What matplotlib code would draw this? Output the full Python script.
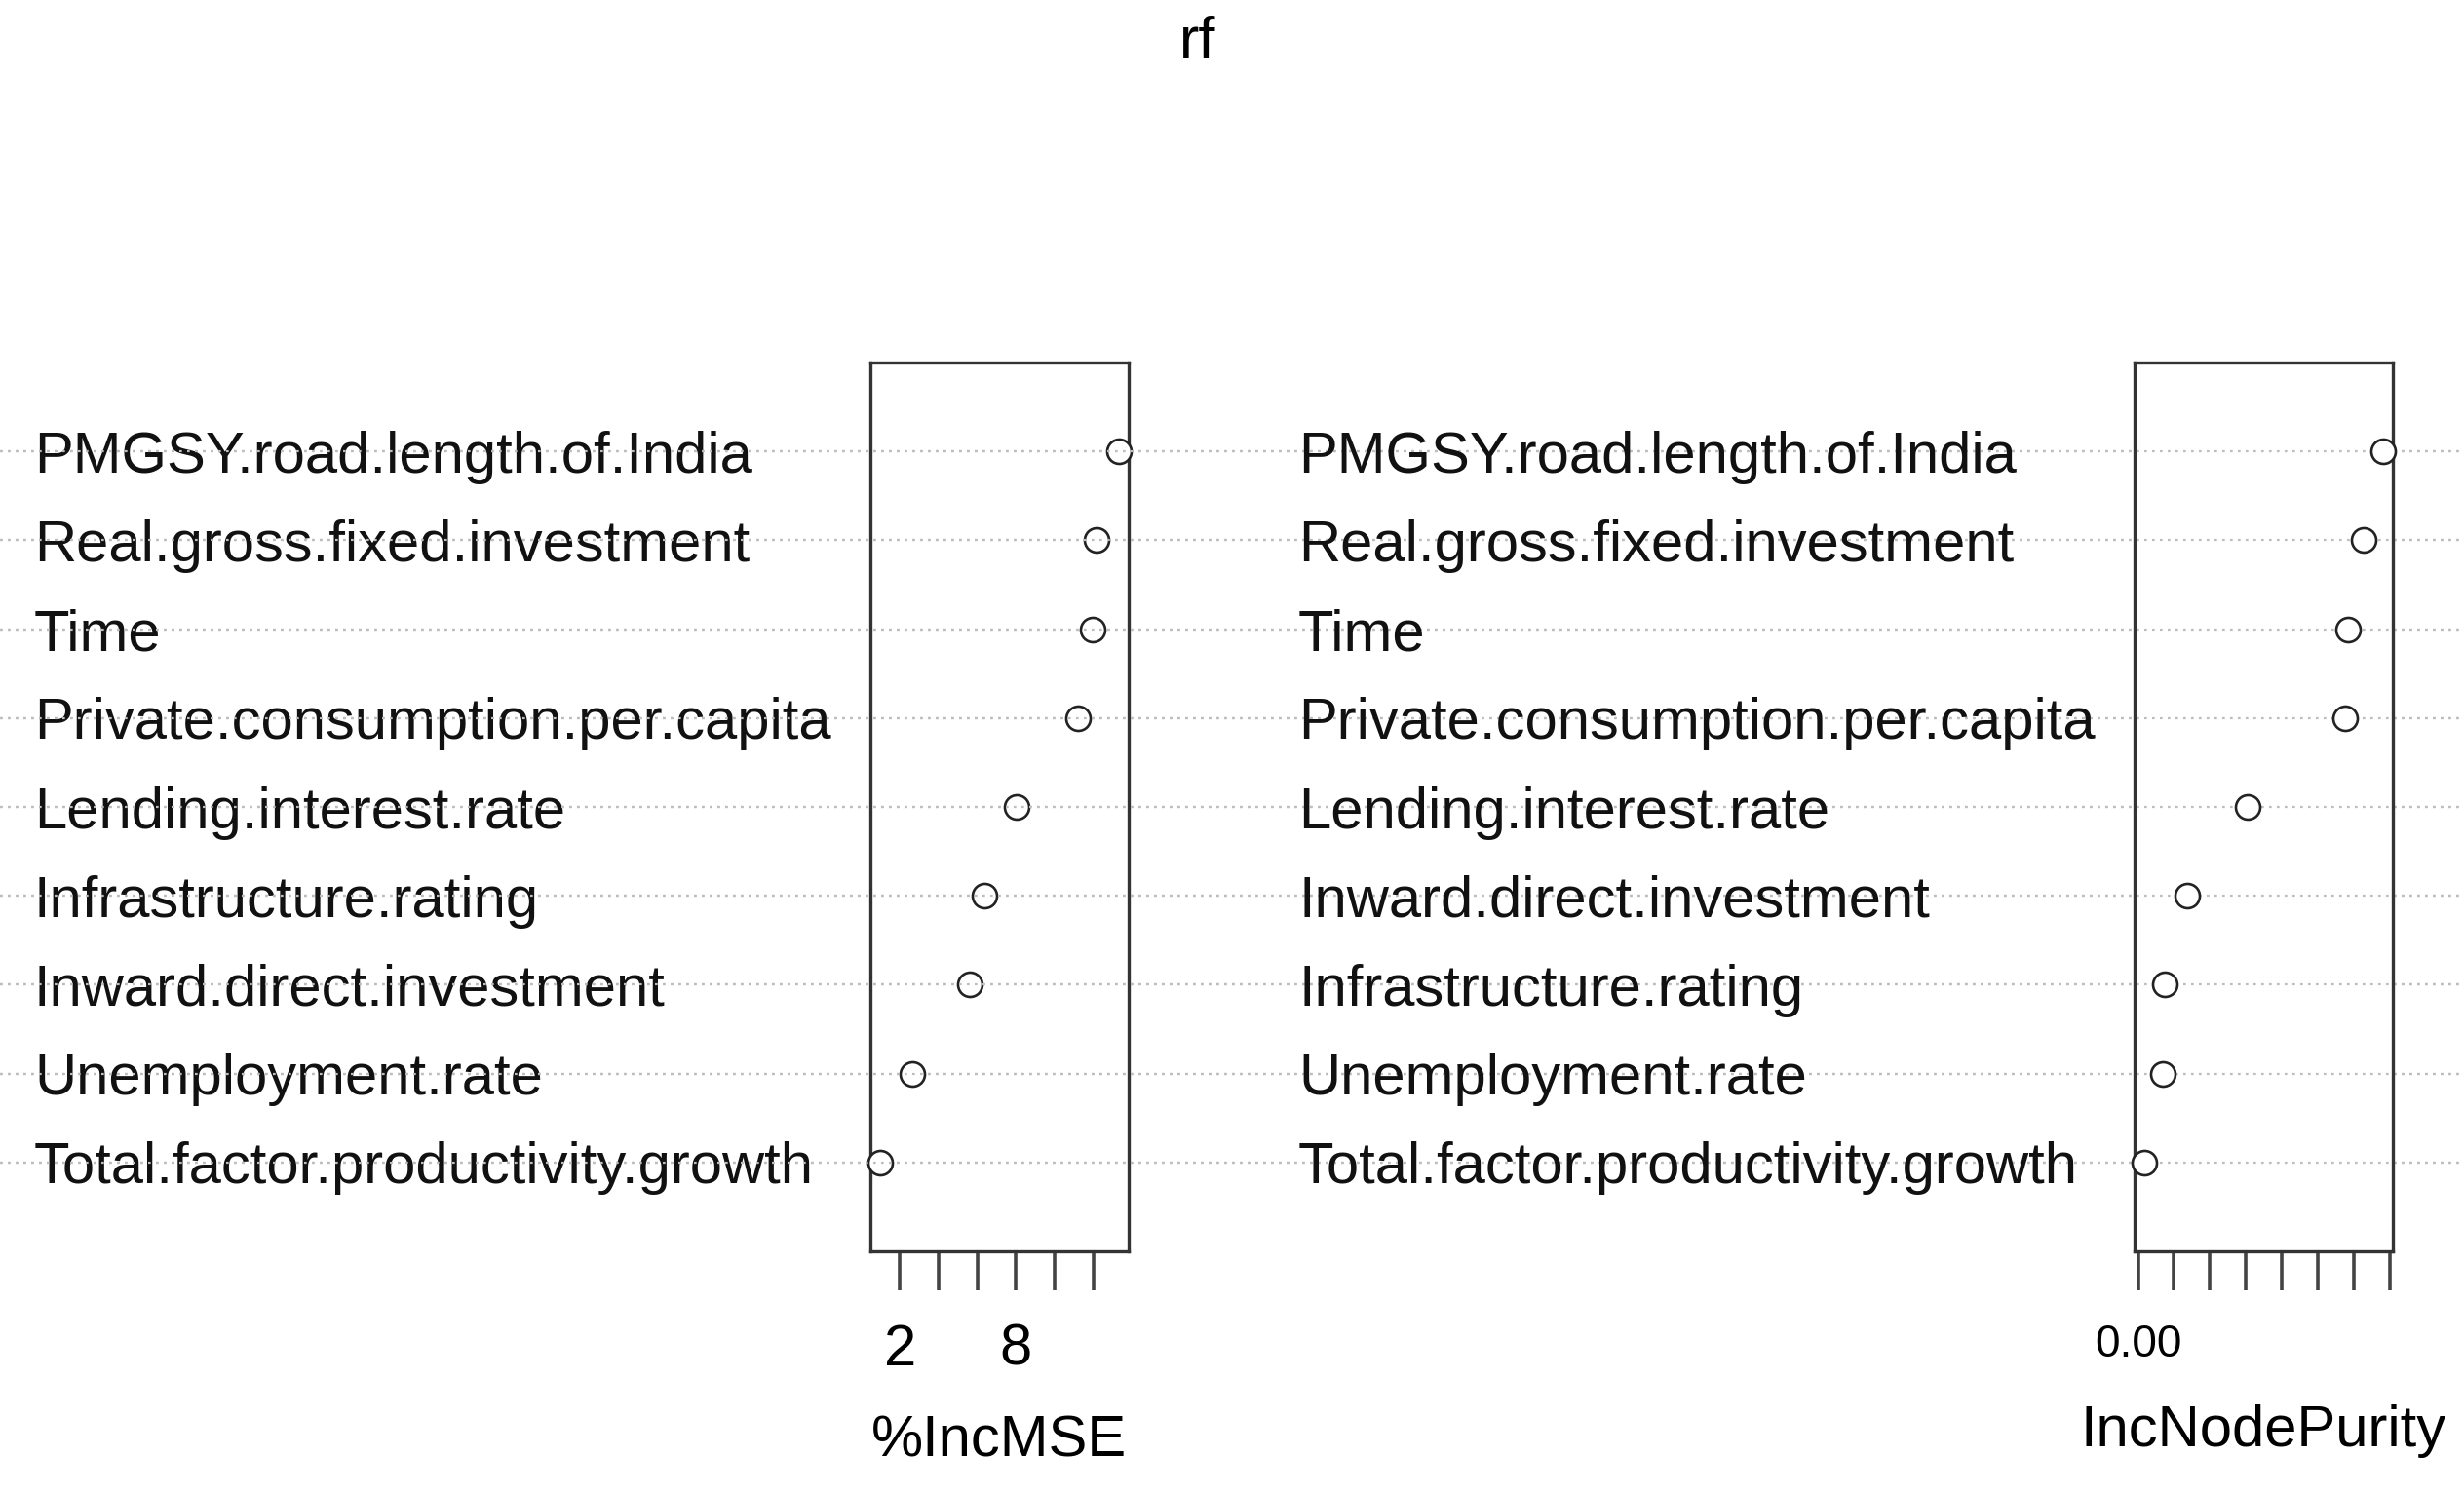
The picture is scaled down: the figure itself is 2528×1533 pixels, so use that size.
import numpy as np
import matplotlib
matplotlib.use("Agg")
import matplotlib.pyplot as plt
import matplotlib.transforms as mtransforms

plt.rcParams['font.family'] = ['Liberation Sans', 'DejaVu Sans']

# variable importance, rows listed from top to bottom
mse_names = ["PMGSY.road.length.of.India", "Real.gross.fixed.investment", "Time",
             "Private.consumption.per.capita", "Lending.interest.rate",
             "Infrastructure.rating", "Inward.direct.investment",
             "Unemployment.rate", "Total.factor.productivity.growth"]
mse_vals = [13.32, 12.14, 11.97, 11.21, 8.05, 6.35, 5.59, 2.65, 0.97]
mse_ticks = [2, 4, 6, 8, 10, 12]
mse_ticklabels = ["2", "", "", "8", "", ""]

pur_names = ["PMGSY.road.length.of.India", "Real.gross.fixed.investment", "Time",
             "Private.consumption.per.capita", "Lending.interest.rate",
             "Inward.direct.investment", "Infrastructure.rating",
             "Unemployment.rate", "Total.factor.productivity.growth"]
pur_vals = [0.1365, 0.1253, 0.1167, 0.1150, 0.0609, 0.0271, 0.0151, 0.0136, 0.0034]
pur_ticks = [0.00, 0.02, 0.04, 0.06, 0.08, 0.10, 0.12, 0.14]
pur_ticklabels = ["0.00", "", "", "", "", "", "", ""]

W, H = 2528, 1533
fig = plt.figure(figsize=(W / 100, H / 100), dpi=100)

FS = 43


def panel(left_px, label_px, names, vals, ticks, ticklabels, tick_fs, xlabel):
    ax = fig.add_axes([left_px / W, 1 - 1284 / H, 265 / W, 912 / H])
    n = len(vals)
    y = np.arange(n, 0, -1)
    lo, hi = min(vals), max(vals)
    pad = 0.04 * (hi - lo)
    ax.set_xlim(lo - pad, hi + pad)
    ax.set_ylim(0, n + 1)

    # dotted guide lines across the whole figure width
    trans = mtransforms.blended_transform_factory(fig.transFigure, ax.transData)
    for yy in y:
        ax.plot([0, 1], [yy, yy], transform=trans, color="#bdbdbd",
                linestyle=(0, (1.2, 2.4)), lw=1.6, clip_on=False, zorder=0)

    ax.plot(vals, y, 'o', mfc='white', mec='#222222', ms=18, mew=1.9,
            clip_on=False, zorder=3)

    off = mtransforms.ScaledTranslation(0, -0.36 * FS / 72, fig.dpi_scale_trans)
    for name, yy in zip(names, y):
        ax.text(label_px / W, yy, name, transform=trans + off, fontsize=FS,
                ha='left', va='baseline', color='#111111')

    ax.set_yticks([])
    ax.set_xticks(ticks)
    ax.set_xticklabels(ticklabels, fontsize=tick_fs)
    ax.tick_params(axis='x', direction='out', length=29, width=2.6,
                   color='#444444', pad=24)
    for s in ax.spines.values():
        s.set_linewidth(2.4)
        s.set_color('#333333')
    ax.set_xlabel(xlabel, fontsize=FS, labelpad=28)
    return ax


panel(893, 35, mse_names, mse_vals, mse_ticks, mse_ticklabels, FS, "%IncMSE")
panel(2190, 1332, pur_names, pur_vals, pur_ticks, pur_ticklabels, 33, "IncNodePurity")

fig.text(1229 / W, 1 - 45 / H, "rf", fontsize=44, ha='center', va='center')

fig.savefig("out.png", dpi=100, facecolor='white')
